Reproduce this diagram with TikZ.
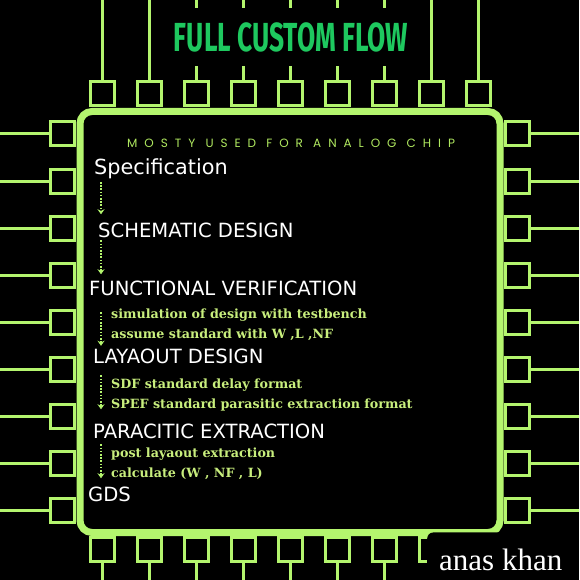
\documentclass[tikz,border=0pt]{standalone}
\usepackage{fontspec}
\usepackage{tikz}
\usetikzlibrary{positioning,arrows.meta}
\newfontfamily\headfont{DejaVu Sans}
\newfontfamily\notefont{DejaVu Serif}
\newfontfamily\tagfont[LetterSpace=58]{Poppins}
\newfontfamily\titlefont{Fira Sans}
\newfontfamily\authorfont{Liberation Serif}
\definecolor{chipgreen}{RGB}{180,245,110}
\definecolor{titlegreen}{RGB}{30,200,95}
\definecolor{notegreen}{RGB}{200,238,125}
\definecolor{taggreen}{RGB}{175,232,95}

\begin{document}
\begin{tikzpicture}[x=1pt,y=-1pt,
  pin/.style={draw=chipgreen,line width=3pt,minimum size=24pt,inner sep=0pt},
  wire/.style={draw=chipgreen,line width=3pt},
  chip/.style={draw=chipgreen,fill=black,line width=7pt,rounded corners=12pt,
    minimum width=420pt,minimum height=421pt,inner sep=0pt},
  stage/.style={text=white,font=\headfont\fontsize{19.6}{22}\selectfont,anchor=base west,inner sep=2pt},
  note/.style={text=notegreen,font=\notefont\bfseries\fontsize{12.7}{15}\selectfont,anchor=base west,inner sep=1pt},
  flow/.style={draw=chipgreen,line width=2pt,dash pattern=on 1.6pt off 1.6pt,
    -{Stealth[length=5pt,width=7pt]}},
  authorbox/.style={fill=black,rounded corners=6pt,anchor=base west,inner xsep=12pt,inner ysep=16pt,
    text=white,font=\authorfont\fontsize{31}{34}\selectfont}]
\useasboundingbox (0,0) rectangle (579,580);
\fill[black] (0,0) rectangle (579,580);

% pins round the chip
\foreach \i [evaluate=\i as \p using 102+47*\i, evaluate=\i as \q using 134+47*\i] in {0,...,8} {
  \node[pin] (top\i) at (\p,94) {};
  \coordinate (topend\i) at (\p,0);
  \draw[wire] (top\i) -- (topend\i);
  \node[pin] (bot\i) at (\p,549.5) {};
  \coordinate (botend\i) at (\p,580);
  \draw[wire] (bot\i) -- (botend\i);
  \node[pin] (left\i) at (62.5,\q) {};
  \coordinate (leftend\i) at (0,\q);
  \draw[wire] (left\i) -- (leftend\i);
  \node[pin] (right\i) at (517.5,\q) {};
  \coordinate (rightend\i) at (579,\q);
  \draw[wire] (right\i) -- (rightend\i);
}

\node[chip] (chip) at (290,322) {};

\node[fill=black,minimum height=58pt,inner xsep=4pt,text=titlegreen,
  font=\titlefont\bfseries\fontsize{40.6}{44}\selectfont] (title) at (291,37)
  {\scalebox{0.65}[1]{FULL CUSTOM FLOW}};

\node[text=taggreen,font=\tagfont\fontsize{12}{14}\selectfont,anchor=base west,inner sep=1pt]
  (tag) at (126,148) {MOSTY USED FOR ANALOG CHIP};

% flow stages
\node[stage,font=\headfont\fontsize{20.8}{24}\selectfont] (spec) at (92,174) {Specification};
\node[stage] (schem)  at (96,237) {SCHEMATIC DESIGN};
\node[stage] (func)   at (87,295) {FUNCTIONAL VERIFICATION};
\node[stage] (layout) at (91,363) {LAYAOUT DESIGN};
\node[stage] (paras)  at (91,438) {PARACITIC EXTRACTION};
\node[stage] (gds)    at (86,501) {GDS};

\node[note] (sim)    at (110,318) {simulation of design with testbench};
\node[note] (assume) at (110,338) {assume standard with W ,L ,NF};
\node[note] (sdf)    at (110,388) {SDF standard delay format};
\node[note] (spef)   at (110,408) {SPEF standard parasitic extraction format};
\node[note] (post)   at (110,457) {post layaout extraction};
\node[note] (calc)   at (110,477) {calculate (W , NF , L)};

\coordinate (rail) at (101,0);
\draw[flow,shorten <=1.5pt,shorten >=6pt]  (spec.south -| rail)   -- (schem.north -| rail);
\draw[flow,shorten <=1pt,shorten >=4pt]    (schem.south -| rail)  -- (func.north -| rail);
\draw[flow,shorten <=15pt,shorten >=0.5pt] (func.south -| rail)   -- (layout.north -| rail);
\draw[flow,shorten <=10pt,shorten >=12pt]  (layout.south -| rail) -- (paras.north -| rail);
\draw[flow,shorten <=4pt,shorten >=6pt]    (paras.south -| rail)  -- (gds.north -| rail);

\node[authorbox] (author) at (427,570) {anas khan};
\end{tikzpicture}
\end{document}
